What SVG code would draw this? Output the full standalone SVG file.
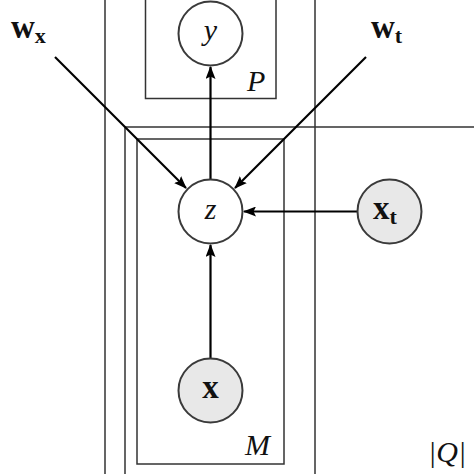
<svg xmlns="http://www.w3.org/2000/svg" width="474" height="474" viewBox="0 0 474 474">
<style>
.plate{fill:none;stroke:#333;stroke-width:1.5}
.node{stroke:#3a3a3a;stroke-width:2}
.lat{fill:#fff}
.obs{fill:#e8e8e8}
.edge{stroke:#000;stroke-width:2.2;fill:none;marker-end:url(#ah)}
.ital{font-family:"Liberation Serif","DejaVu Serif",serif;font-style:italic;font-size:30px;fill:#111}
.bold{font-family:"Liberation Serif","DejaVu Serif",serif;font-weight:bold;font-size:33px;fill:#111}
.sub{font-size:22px}
</style>
<defs>
<marker id="ah" markerWidth="13" markerHeight="10" refX="12" refY="5" orient="auto" markerUnits="userSpaceOnUse">
<path d="M0,0 L13,5 L0,10 L2.5,5 Z" fill="#000"/>
</marker>
</defs>
<rect width="474" height="474" fill="#fff"/>
<g id="plates">
<rect id="plate-outer" class="plate" x="105" y="-10" width="210" height="500"/>
<rect id="plate-P" class="plate" x="145.5" y="-10" width="130.5" height="108.5"/>
<text class="ital" x="247" y="91">P</text>
<rect id="plate-Q" class="plate" x="125" y="127" width="360" height="360"/>
<text class="ital" x="428" y="462">|Q|</text>
<rect id="plate-M" class="plate" x="137" y="139" width="147" height="325"/>
<text class="ital" x="245" y="455">M</text>
</g>
<g id="connectors">
<line class="edge" x1="210.5" y1="179" x2="210.5" y2="67"/>
<line class="edge" x1="210.5" y1="358" x2="210.5" y2="245"/>
<line class="edge" x1="357" y1="211.5" x2="244" y2="211.5"/>
<line class="edge" x1="55" y1="57" x2="186" y2="188"/>
<line class="edge" x1="366" y1="57" x2="235" y2="188"/>
</g>
<g id="node-y">
<circle class="node lat" cx="210.5" cy="33.5" r="32"/>
<text class="ital" x="210.5" y="40" text-anchor="middle">y</text>
</g>
<g id="node-z">
<circle class="node lat" cx="210.5" cy="211.5" r="32"/>
<text class="ital" x="210.5" y="219" text-anchor="middle">z</text>
</g>
<g id="node-xt">
<circle class="node obs" cx="389.5" cy="211.5" r="32"/>
<text class="bold" x="373" y="219">x<tspan class="sub" dy="5">t</tspan></text>
</g>
<g id="node-x">
<circle class="node obs" cx="210.5" cy="390.5" r="32"/>
<text class="bold" x="210.5" y="398" text-anchor="middle">x</text>
</g>
<g id="node-wx">
<text class="bold" x="11" y="38">w<tspan class="sub" dy="5">x</tspan></text>
</g>
<g id="node-wt">
<text class="bold" x="371" y="38">w<tspan class="sub" dy="5">t</tspan></text>
</g>
</svg>
